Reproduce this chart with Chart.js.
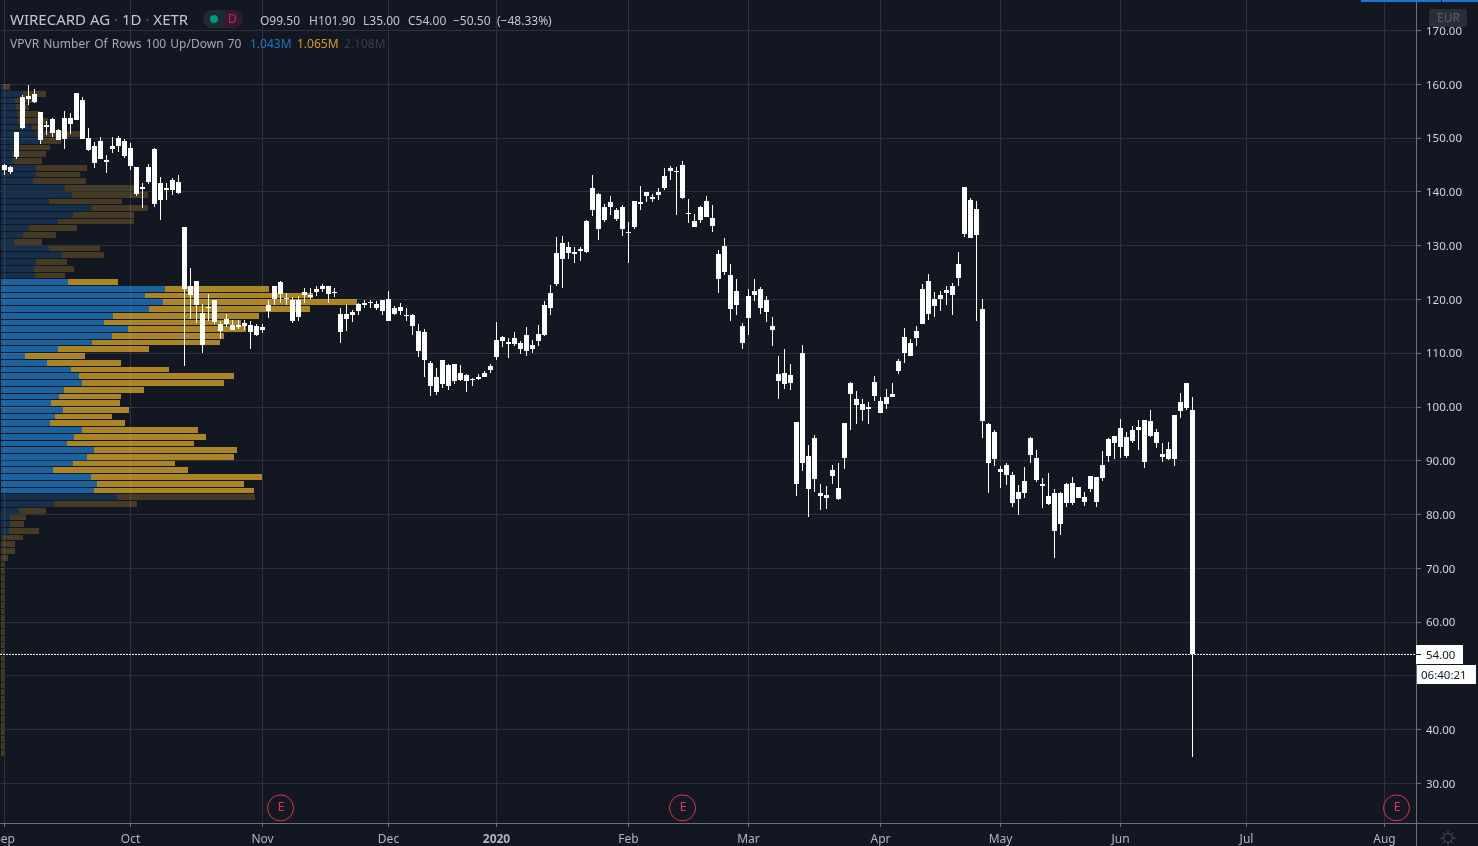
<!DOCTYPE html>
<html>
<head>
<meta charset="utf-8">
<title>WIRECARD AG 1D XETR</title>
<script src="https://cdn.jsdelivr.net/npm/chart.js@4/dist/chart.umd.min.js"></script>
<style>
  html, body { margin: 0; padding: 0; background: #131722; overflow: hidden; }
  #stage { position: relative; width: 1478px; height: 846px; overflow: hidden; font-family: "Noto Sans", sans-serif; }
  canvas { display: block; position: absolute; left: 0; top: 0; }
  .t { position: absolute; white-space: pre; line-height: 1; color: #b2b5be; }
  .box { position: absolute; }
</style>
</head>
<body>
<div id="stage">
  <canvas id="c" width="1478" height="846"></canvas>

  <div class="t" style="left:10px;top:12px;font-size:15px;color:#c3c6ce">WIRECARD AG<span style="color:#5d606b"> · </span>1D<span style="color:#5d606b"> · </span>XETR</div>
  <div class="box" style="left:203px;top:10px;width:20px;height:18px;border-radius:9px 0 0 9px;background:#1b2d33"></div>
  <div class="box" style="left:223px;top:10px;width:20px;height:18px;border-radius:0 9px 9px 0;background:#2f1d2e"></div>
  <div class="box" style="left:210px;top:15px;width:8px;height:8px;border-radius:50%;background:#009688"></div>
  <div class="t" style="left:228px;top:13px;font-size:12px;color:#d81b60">D</div>
  <div class="t" style="left:260px;top:15px;font-size:12px;color:#c3c6ce">O99.50</div>
  <div class="t" style="left:309px;top:15px;font-size:12px;color:#c3c6ce">H101.90</div>
  <div class="t" style="left:363px;top:15px;font-size:12px;color:#c3c6ce">L35.00</div>
  <div class="t" style="left:408px;top:15px;font-size:12px;color:#c3c6ce">C54.00</div>
  <div class="t" style="left:453px;top:15px;font-size:12px;color:#c3c6ce">−50.50</div>
  <div class="t" style="left:497px;top:15px;font-size:12px;color:#c3c6ce">(−48.33%)</div>
  <div class="t" style="left:10px;top:38px;font-size:12px;word-spacing:1px;color:#a6a9b2">VPVR Number Of Rows 100 Up/Down 70</div>
  <div class="t" style="left:250px;top:38px;font-size:12px;color:#1b78c4">1.043M</div>
  <div class="t" style="left:297px;top:38px;font-size:12px;color:#d99a1c">1.065M</div>
  <div class="t" style="left:344px;top:38px;font-size:12px;color:#3a3d47">2.108M</div>

  <div class="box" style="left:1361px;top:0;width:80px;height:2px;background:#1976d2"></div>
  <div class="box" style="left:1442px;top:0;width:36px;height:2px;background:#1976d2"></div>
  <div class="box" style="left:1429px;top:9px;width:38px;height:18px;border-radius:3px;background:#2a2e39"></div>
  <div class="t" style="left:1437px;top:12px;font-size:12px;color:#5d606b">EUR</div>

  <div class="box" style="left:1416px;top:645px;width:47px;height:19px;background:#fff"></div>
  <div class="box" style="left:1416px;top:654px;width:5px;height:1px;background:#131722"></div>
  <div class="t" style="left:1426px;top:649px;font-size:11.5px;color:#131722">54.00</div>
  <div class="box" style="left:1417px;top:665px;width:59px;height:19px;background:#fff"></div>
  <div class="t" style="left:1421px;top:669px;font-size:11.5px;color:#131722">06:40:21</div>

  <div class="box" style="left:1416px;top:823px;width:62px;height:1px;background:#6d6f78"></div>
  <div class="box" style="left:1416px;top:823px;width:1px;height:23px;background:#6d6f78"></div>
  <svg class="box" style="left:1440px;top:830px" width="16" height="16" viewBox="0 0 16 16" fill="none" stroke="#4d505b" stroke-width="1">
    <circle cx="8" cy="8" r="4.5"/>
    <path d="M8 0.5V3M8 13V15.5M0.5 8H3M13 8H15.5M2.7 2.7L4.5 4.5M11.5 11.5L13.3 13.3M2.7 13.3L4.5 11.5M11.5 4.5L13.3 2.7"/>
  </svg>
</div>

<script>
// Daily candles: one entry per session, first session is 2 Sep 2019.
const bodyTop = [
  145.0,144.65,151.1,157.6,157.8,158.2,154.8,152.4,153.5,151.5,
  153.7,153.7,158.4,157.1,150.0,148.5,149.5,145.9,148.5,150.0,
  149.5,148.2,144.6,140.9,144.6,148.0,141.6,140.7,142.2,141.8,
  133.5,122.5,123.4,117.5,118.6,119.9,115.4,116.4,115.25,115.25,
  115.6,115.25,115.05,114.9,119.0,122.5,123.25,120.3,119.9,119.9,
  121.4,120.8,121.9,122.5,122.5,121.4,117.3,117.3,117.7,119.15,
  119.35,119.55,119.15,119.9,120.1,118.4,118.6,117.1,117.1,114.15,
  113.95,108.2,105.6,108.75,107.8,108.0,106.35,105.95,105.2,105.6,
  106.35,107.6,112.5,113.05,112.1,112.85,111.9,113.4,111.55,113.6,
  119.0,121.2,128.65,130.5,129.75,128.8,129.4,134.6,140.7,139.6,
  137.2,138.1,136.6,137.2,132.55,138.3,138.1,140.0,139.05,140.0,
  142.95,144.45,143.9,145.0,136.05,134.6,137.2,138.3,135.15,128.45,
  129.95,124.55,121.55,115.05,120.65,121.55,121.95,119.9,115.05,106.15,
  106.35,105.95,97.2,110.05,90.9,94.25,84.05,83.65,88.3,84.95,
  97.05,104.5,101.5,100.55,100.0,104.65,101.1,101.85,102.4,108.55,
  113.05,111.9,114.15,121.95,123.4,120.1,120.8,121.75,122.5,126.6,
  140.9,138.5,136.8,118.2,96.85,95.35,88.5,89.2,87.35,84.2,
  86.25,94.25,90.5,85.7,83.45,84.05,84.05,85.7,85.9,85.15,
  83.25,87.2,87.0,89.2,94.05,94.6,96.1,94.4,95.7,96.3,
  97.6,97.4,95.35,91.3,92.2,98.5,100.95,104.5,99.5
];
const bodyBottom = [
  144.1,143.7,146.5,151.9,157.3,156.7,149.7,152.1,150.9,149.7,
  149.8,152.6,153.4,149.8,147.8,145.4,146.1,145.5,148.0,148.5,
  146.7,144.8,139.6,140.5,141.8,137.8,138.5,140.35,140.35,139.8,
  121.9,120.8,119.0,111.5,118.4,115.8,114.1,115.4,114.3,114.9,
  115.05,113.95,113.4,114.3,117.85,120.1,121.0,120.1,116.0,116.75,
  120.8,120.45,121.4,121.9,121.0,121.2,113.95,116.4,117.1,117.85,
  119.0,119.35,118.4,117.85,116.0,117.3,117.85,116.9,115.05,110.4,
  108.75,103.9,102.8,104.3,103.9,104.85,105.0,104.85,105.0,105.2,
  105.6,106.9,109.3,112.3,111.75,111.75,110.8,110.4,110.8,112.3,
  113.4,118.4,122.9,127.5,128.65,128.45,129.0,128.8,136.6,133.1,
  134.8,137.2,135.0,133.1,132.35,133.5,137.75,139.25,138.7,139.4,
  140.7,143.9,143.7,138.85,135.9,133.5,134.8,135.3,133.65,123.8,
  125.1,118.2,119.0,111.9,116.55,120.8,118.4,117.7,114.3,104.85,
  104.3,104.5,85.7,89.6,84.75,86.6,83.45,83.1,87.2,82.9,
  90.5,102.4,100.4,99.45,99.65,102.05,98.9,100.55,101.85,106.7,
  110.05,109.5,112.85,115.45,117.3,118.8,120.1,121.2,120.8,124.0,
  132.2,131.4,132.0,97.4,89.6,90.35,87.9,87.35,82.15,82.9,
  84.05,91.1,86.4,85.3,82.0,76.95,78.25,82.15,82.15,83.1,
  82.35,84.75,82.35,86.8,90.9,93.3,92.6,90.9,93.7,95.7,
  89.8,94.6,93.3,90.7,90.35,90.35,99.25,99.85,54.0
];
const highs = [
  145.2,144.8,151.1,158.0,159.85,159.1,154.8,153.2,153.7,151.7,
  155.0,154.6,158.4,157.6,151.9,149.3,150.2,146.8,150.2,150.4,
  149.8,149.1,144.6,141.6,145.2,148.2,142.8,141.6,142.6,143.2,
  133.5,125.85,123.4,119.2,121.0,119.9,116.0,117.3,116.2,116.2,
  116.2,116.0,115.4,115.4,119.9,122.5,123.4,121.2,120.45,120.65,
  122.1,122.1,122.5,122.9,122.5,122.1,118.4,119.15,118.05,119.35,
  119.9,119.9,119.7,119.9,121.55,118.8,119.35,118.4,117.3,115.45,
  114.5,108.55,107.25,108.75,108.0,108.0,107.8,106.15,105.4,106.15,
  106.7,108.0,115.8,113.2,112.85,113.95,112.3,114.9,112.5,115.25,
  119.7,122.7,131.6,131.8,130.7,129.75,129.75,134.8,143.15,139.8,
  137.75,139.25,137.0,137.6,134.4,138.3,141.1,140.0,139.6,140.7,
  144.45,144.8,144.6,145.75,138.7,135.9,137.4,139.25,137.6,129.2,
  131.4,126.6,123.8,115.6,121.95,123.8,122.3,120.65,116.75,109.5,
  110.8,108.0,97.2,111.55,92.95,94.8,85.7,85.3,89.2,89.6,
  97.05,104.65,103.0,101.5,100.95,105.8,101.85,103.35,104.5,108.9,
  114.7,112.65,115.05,122.9,124.75,121.4,121.55,122.5,123.05,128.8,
  140.9,138.85,138.3,120.1,97.05,95.7,89.05,89.6,87.9,85.5,
  88.85,94.4,92.0,86.8,87.75,84.75,84.2,85.9,87.0,85.15,
  84.2,87.2,87.0,91.85,94.25,94.6,97.8,95.35,96.5,97.6,
  97.6,99.45,95.9,93.3,93.5,98.5,102.6,104.5,101.9
];
const lows = [
  143.1,143.3,146.1,151.7,156.2,156.5,148.9,150.6,150.2,149.7,
  148.0,150.8,153.4,149.8,147.6,144.4,146.1,143.5,147.2,147.4,
  146.3,144.1,139.2,137.0,141.5,137.2,134.8,138.5,139.4,139.6,
  107.6,116.4,115.6,110.05,116.0,115.45,112.65,114.9,114.3,114.5,
  114.3,110.8,113.2,113.75,116.55,119.0,119.35,119.0,115.6,116.0,
  119.35,120.1,120.65,121.4,119.35,120.45,111.9,114.15,115.8,117.1,
  118.4,118.4,118.05,117.1,116.0,117.1,117.1,116.0,113.4,109.3,
  105.6,102.05,102.25,103.55,103.2,104.3,104.85,102.8,103.9,105.0,
  105.6,106.35,108.75,111.15,109.1,111.35,109.85,109.5,110.05,111.35,
  113.2,117.1,122.5,122.1,127.5,126.8,127.15,128.65,135.5,131.05,
  134.4,135.7,134.6,131.8,126.75,133.1,136.6,138.1,138.1,138.5,
  140.35,142.2,135.7,138.7,134.2,133.5,134.2,135.3,132.55,121.2,
  124.55,116.0,117.1,110.8,113.4,119.7,117.3,115.8,111.35,101.5,
  103.35,103.2,83.45,88.1,79.55,84.2,80.9,81.05,85.7,82.7,
  88.5,95.7,96.85,97.4,96.85,101.1,98.9,99.65,101.85,106.15,
  108.2,109.5,111.35,115.45,116.2,116.75,117.85,119.0,117.1,122.5,
  131.6,131.4,116.0,94.25,84.05,89.05,84.95,85.5,81.4,79.9,
  83.1,89.6,86.05,81.25,81.8,71.95,76.2,81.4,81.8,83.1,
  81.6,84.2,81.4,86.25,89.8,90.35,90.5,90.5,93.3,92.0,
  88.7,94.4,92.4,89.8,90.15,89.05,97.95,99.45,35.0
];

// Volume profile rows, top row first; volumes in thousands of shares.
const rowPrices = [
  159.38,158.13,156.88,155.63,154.38,153.13,151.88,150.63,149.38,148.13,
  146.88,145.63,144.38,143.13,141.88,140.63,139.38,138.13,136.88,135.63,
  134.38,133.13,131.88,130.63,129.38,128.13,126.88,125.63,124.38,123.13,
  121.88,120.63,119.38,118.13,116.88,115.63,114.38,113.13,111.88,110.63,
  109.38,108.13,106.88,105.63,104.38,103.13,101.88,100.63,99.38,98.13,
  96.88,95.63,94.38,93.13,91.88,90.63,89.38,88.13,86.88,85.63,
  84.38,83.13,81.88,80.63,79.38,78.13,76.88,75.63,74.38,73.13,
  71.88,70.63,69.38,68.13,66.88,65.63,64.38,63.13,61.88,60.63,
  59.38,58.13,56.88,55.63,54.38,53.13,51.88,50.63,49.38,48.13,
  46.88,45.63,44.38,43.13,41.88,40.63,39.38,38.13,36.88,35.63
];
const rowUp = [
  12,132,84,90,96,102,186,216,234,114,
  66,72,210,210,192,384,426,288,546,432,
  342,168,132,78,288,366,210,198,204,402,
  984,864,972,888,672,618,762,666,546,342,
  144,276,420,468,486,378,348,300,372,324,
  294,486,438,396,558,516,432,312,540,576,
  558,696,318,108,54,54,48,6,0,0,
  0,0,0,0,0,0,0,0,0,0,
  0,0,0,0,0,0,0,0,0,0,
  0,0,0,0,0,0,0,0,0,0
];
const rowDown = [
  42,138,132,78,138,180,72,258,126,180,
  204,174,306,264,318,414,456,438,336,366,
  456,288,198,168,306,252,186,240,180,300,
  624,1008,1164,966,876,822,708,672,768,546,
  360,444,588,930,852,480,372,414,396,342,
  450,696,792,762,858,882,612,810,1026,882,
  960,828,498,162,96,84,180,126,84,84,
  42,18,18,18,18,18,18,18,18,18,
  18,18,18,18,18,18,18,18,18,18,
  18,18,18,18,18,18,18,18,18,18
];
// Rows inside the 70% value area use the strong colours.
const valueAreaFirstRow = 29;
const valueAreaLastRow = 60;

// Price axis ticks and the month ticks along the time axis (session index, label).
const priceTicks = [170,160,150,140,130,120,110,100,90,80,70,60,50,40,30];
const monthSessions = [0,21,43,64,82,104,124,146,166,186,207,230];
const monthLabels = ['Sep','Oct','Nov','Dec','2020','Feb','Mar','Apr','May','Jun','Jul','Aug'];

const lastPrice = 54;
// Earnings events on the time axis.
const earningsSessions = [46,113,232];
const earningsLevel = 25.46;

const sessions = bodyTop.map((_, i) => i);
const rowColors = (strong, faint) => rowPrices.map((_, k) =>
  k >= valueAreaFirstRow && k <= valueAreaLastRow ? strong : faint);

const FONT = '"Noto Sans", sans-serif';

// Snaps bar edges to whole pixels so candles and profile rows stay crisp.
const pixelSnap = {
  id: 'pixelSnap',
  afterDatasetsUpdate(chart) {
    chart.getSortedVisibleDatasetMetas().forEach(meta => {
      if (meta.type !== 'bar') return;
      meta.data.forEach(el => {
        if (meta.indexAxis === 'y') {
          const half = chart.scales.yVol.getPixelForValue(0) - chart.scales.yVol.getPixelForValue(0.625);
          const t = Math.round(el.y - half);
          const b = Math.round(el.y + half) - 1;
          el.y = (t + b) / 2;
          el.height = b - t;
        } else {
          el.y = Math.round(el.y);
          el.base = Math.round(el.base);
          if (el.y === el.base) el.base = el.y + 1;
        }
      });
    });
  }
};

// Writes the letter inside each earnings circle.
const earningsLetters = {
  id: 'earningsLetters',
  afterDatasetsDraw(chart) {
    const ctx = chart.ctx;
    const meta = chart.getDatasetMeta(chart.data.datasets.findIndex(d => d.label === 'Earnings'));
    ctx.save();
    ctx.fillStyle = '#e0394d';
    ctx.font = '12px ' + FONT;
    ctx.textAlign = 'center';
    ctx.textBaseline = 'middle';
    meta.data.forEach(p => ctx.fillText('E', p.x + 0.5, p.y));
    ctx.restore();
  }
};

new Chart(document.getElementById('c'), {
  data: {
    datasets: [
      {
        label: 'Earnings', type: 'scatter', order: 0,
        data: earningsSessions.map(x => ({ x, y: earningsLevel })),
        pointRadius: 13, pointBorderWidth: 1, pointBorderColor: '#d9384a', pointBackgroundColor: 'transparent',
        xAxisID: 'x', yAxisID: 'y'
      },
      {
        label: 'Last price', type: 'line', order: 1,
        data: [{ x: -0.75, y: lastPrice }, { x: 235.25, y: lastPrice }],
        borderColor: '#ffffff', borderWidth: 1, borderDash: [2, 1], pointRadius: 0,
        xAxisID: 'x', yAxisID: 'y'
      },
      {
        label: 'Candle body', type: 'bar', order: 2, grouped: false,
        data: sessions.map(i => ({ x: i, y: [bodyBottom[i], bodyTop[i]] })),
        backgroundColor: '#ffffff', barPercentage: 1, categoryPercentage: 1, maxBarThickness: 5, inflateAmount: 0,
        xAxisID: 'x', yAxisID: 'y'
      },
      {
        label: 'Candle wick', type: 'bar', order: 3, grouped: false,
        data: sessions.map(i => ({ x: i, y: [lows[i], highs[i]] })),
        backgroundColor: '#ffffff', barPercentage: 1, categoryPercentage: 1, maxBarThickness: 1, inflateAmount: 0,
        xAxisID: 'x', yAxisID: 'y'
      },
      {
        label: 'Up volume', type: 'bar', order: 4, grouped: false, indexAxis: 'y',
        data: rowPrices.map((p, k) => ({ x: [0, rowUp[k]], y: p })),
        backgroundColor: rowColors('rgba(33,150,243,0.6)', 'rgba(33,150,243,0.2)'),
        barPercentage: 1, categoryPercentage: 1, maxBarThickness: 6, inflateAmount: 0,
        xAxisID: 'xVol', yAxisID: 'yVol'
      },
      {
        label: 'Down volume', type: 'bar', order: 5, grouped: false, indexAxis: 'y',
        data: rowPrices.map((p, k) => ({ x: [rowUp[k], rowUp[k] + rowDown[k]], y: p })),
        backgroundColor: rowColors('rgba(251,192,45,0.65)', 'rgba(251,192,45,0.22)'),
        barPercentage: 1, categoryPercentage: 1, maxBarThickness: 6, inflateAmount: 0,
        xAxisID: 'xVol', yAxisID: 'yVol'
      }
    ]
  },
  options: {
    responsive: false,
    animation: false,
    events: [],
    layout: { padding: 0, autoPadding: false },
    plugins: { legend: { display: false }, tooltip: { enabled: false }, title: { display: false } },
    scales: {
      x: {
        type: 'linear', position: 'bottom', min: -0.75, max: 235.25, offset: false,
        afterBuildTicks(scale) { scale.ticks = monthSessions.map(value => ({ value })); },
        afterFit(scale) { scale.height = 23; scale.paddingLeft = 0; scale.paddingRight = 0; },
        grid: { offset: false, color: '#2d313d', tickColor: '#6d6f78', tickLength: 4, drawTicks: true },
        border: { color: '#6d6f78' },
        ticks: {
          autoSkip: false, maxRotation: 0, minRotation: 0, padding: 5, color: '#b2b5be',
          font: ctx => ({ family: FONT, size: 12, weight: ctx.tick && ctx.tick.value === monthSessions[monthLabels.indexOf('2020')] ? 'bold' : 'normal' }),
          callback: v => monthLabels[monthSessions.indexOf(v)]
        }
      },
      y: {
        type: 'linear', position: 'right', min: 22.656, max: 175.671, offset: false,
        afterBuildTicks(scale) { scale.ticks = priceTicks.map(value => ({ value })); },
        afterFit(scale) { scale.width = 62; scale.paddingTop = 0; scale.paddingBottom = 0; },
        grid: { offset: false, color: '#2d313d', tickColor: '#6d6f78', tickLength: 5, drawTicks: true },
        border: { color: '#6d6f78' },
        ticks: {
          autoSkip: false, padding: 5, labelOffset: 1, color: '#d1d4dc',
          font: { family: FONT, size: 11.5 },
          callback: v => v.toFixed(2)
        }
      },
      xVol: { type: 'linear', position: 'bottom', display: false, min: -6, max: 8490, offset: false },
      yVol: { type: 'linear', position: 'left', display: false, min: 22.656, max: 175.671, offset: false }
    }
  },
  plugins: [pixelSnap, earningsLetters]
});
</script>
</body>
</html>
